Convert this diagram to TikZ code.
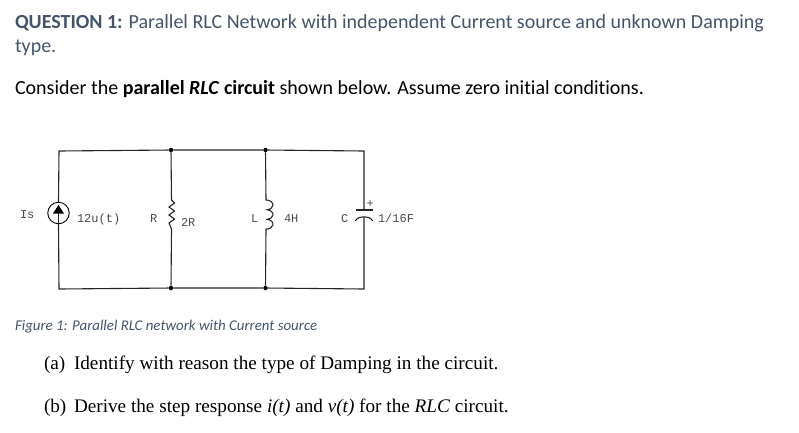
\documentclass[tikz,border=0pt]{standalone}
\usepackage{fontspec}
\setmainfont{Carlito}[Ligatures=NoCommon]
\newfontfamily\monofam{Liberation Mono}
\newfontfamily\timesfam{Liberation Serif}
\usetikzlibrary{positioning,calc}
\definecolor{headblue}{HTML}{44546A}
\definecolor{labelgray}{HTML}{4A4A4A}
\begin{document}
\begin{tikzpicture}[x=1pt,y=-1pt,
        line/.style={anchor=base west,inner sep=0pt,outer sep=0pt},
        heading/.style={line,font=\fontsize{20}{22}\selectfont,text=headblue},
        body/.style={line,font=\fontsize{20}{22}\selectfont,text=black},
        answer/.style={line,font=\timesfam\fontsize{19.2}{22}\selectfont,text=black},
        caption/.style={line,font=\fontsize{14.9}{16}\selectfont\itshape,text=headblue},
        val/.style={line,font=\monofam\fontsize{12}{14}\selectfont,text=labelgray},
        wire/.style={draw=black!85,line width=1.1pt},
        dot/.style={circle,fill=black,inner sep=0pt,minimum size=4.5pt}]
   \useasboundingbox (0,0) rectangle (799,432);
   % text
   \node (Q1) [heading] at (15,28) {\textbf{QUESTION 1:} Parallel RLC Network with independent Current source and unknown Damping};
   \node (Q2) [heading] at (15,52) {type.};
   \node (Q3) [body] at (15,94) {Consider the \textbf{parallel \textit{RLC} circuit} shown below. Assume zero initial conditions.};
   \node (cap) [caption] at (15,330) {Figure 1: Parallel RLC network with Current source};
   \node (a) [answer] at (44,369) {(a)};
   \node (aText) [answer] at (74,369) {Identify with reason the type of Damping in the circuit.};
   \node (b) [answer] at (44,412) {(b)};
   \node (bText) [answer] at (74,412) {Derive the step response \textit{i(t)} and \textit{v(t)} for the \textit{RLC} circuit.};
   % corners and junctions
   \coordinate (TL) at (59,151);
   \coordinate (BL) at (59,289);
   \coordinate (TC) at (364,151);
   \coordinate (BC) at (364,289);
   \node (TR) [dot] at (171,150) {};
   \node (BR) [dot] at (171,288) {};
   \node (TI) [dot] at (265.5,150) {};
   \node (BI) [dot] at (265.5,288) {};
   % source
   \node (Is) [circle,draw=black,line width=0.9pt,minimum size=21.5pt,inner sep=0pt] at (58.5,213) {};
   \fill (Is.center) ++(-5.5,0.5) -- ++(11,0) -- ++(-5.5,-8.5) -- cycle;
   \draw[wire,line width=0.9pt] (Is.center) -- (Is.south);
   % frame
   \draw[wire] (Is.north) -- (TL) -- (TR) -- (TI) -- (TC) -- ++(0,58);
   \draw[wire] (Is.south) -- (BL) -- (BR) -- (BI) -- (BC) -- ++(0,-72);
   % resistor
   \coordinate (Rt) at (171.5,200);
   \coordinate (Rb) at (171.5,229);
   \draw[wire] (TR) -- (Rt) -- ++(3,3) -- ++(-5.5,4) -- ++(5.5,4) -- ++(-5.5,4) -- ++(5.5,4) -- ++(-5.5,4) -- (Rb) -- (BR);
   % inductor
   \coordinate (Lt) at (266,200);
   \coordinate (Lb) at (266,229);
   \draw[wire] (TI) -- (Lt) arc[start angle=-90,end angle=80,x radius=7,y radius=4.9]
      arc[start angle=-80,end angle=80,x radius=7,y radius=4.9]
      arc[start angle=-80,end angle=90,x radius=7,y radius=4.9] -- (BI);
   % capacitor
   \draw[wire] ($(TC)+(-8.5,59)$) -- ++(17,0);
   \draw[wire] (355.5,221) .. controls (357,215.5) and (371,215.5) .. (372.5,221);
   % labels
   \node (lIs) [val] at (20,218) {Is};
   \node (lS) [val] at (77,222) {12u(t)};
   \node (lR) [val] at (150,222) {R};
   \node (l2R) [val] at (181,226) {2R};
   \node (lL) [val] at (251,222) {L};
   \node (l4H) [val] at (284,222) {4H};
   \node (lC) [val] at (341,222) {C};
   \node (lF) [val] at (378,222) {1/16F};
   \node (lp) [val] at (366.5,207) {+};
\end{tikzpicture}
\end{document}
